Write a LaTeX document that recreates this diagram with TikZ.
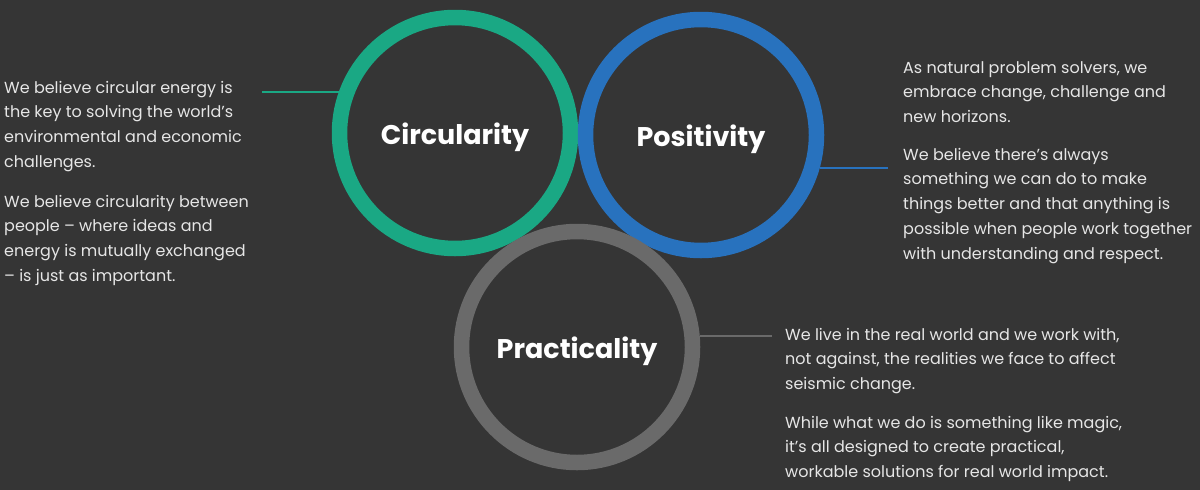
\documentclass[tikz,border=0pt]{standalone}
\usepackage{fontspec}
\setmainfont{Poppins}
\definecolor{bg}{HTML}{353535}
\definecolor{cgreen}{HTML}{1AA884}
\definecolor{cblue}{HTML}{2872BE}
\definecolor{cgrey}{HTML}{6A6A6A}
\definecolor{txt}{HTML}{E6E6E6}
\tikzset{
  ring/.style={circle, minimum size=231pt, line width=15.5pt, inner sep=0pt, text=white,
    font=\fontsize{27}{30}\selectfont\bfseries},
  para/.style={anchor=base west, inner sep=0pt, text=txt},
  conn/.style={line width=1.3pt}
}
\newcommand{\ptext}[1]{\parbox[t]{400pt}{\fontsize{16}{24.8}\selectfont #1}}
\newcommand{\lbl}[1]{\raisebox{-4pt}[\height][\depth]{#1}}
\begin{document}
\begin{tikzpicture}[x=1pt,y=-1pt]
\fill[bg] (0,0) rectangle (1200,490);
\useasboundingbox (0,0) rectangle (1200,490);
% rings
\node[ring, draw=cgreen] (circ) at (455,133) {\lbl{Circularity}};
\node[ring, draw=cblue] (posi) at (701,135) {\lbl{Positivity}};
\node[ring, draw=cgrey] (prac) at (577,347) {\lbl{Practicality}};
% connector ends
\coordinate (gl) at (262,92);
\coordinate (bl) at (888,168);
\coordinate (pl) at (772,336);
\draw[conn, cgreen] (gl) -- (gl -| circ.160.5);
\draw[conn, cblue] (posi.-15.6 |- bl) -- (bl);
\draw[conn, cgrey] (prac.5.1 |- pl) -- (pl);
% texts
\node[para] (t1) at (4,93) {\ptext{We believe circular energy is\\the key to solving the world’s\\environmental and economic\\challenges.}};
\node[para] (t2) at (4,207) {\ptext{We believe circularity between\\people – where ideas and\\energy is mutually exchanged\\– is just as important.}};
\node[para] (t3) at (903,73) {\ptext{As natural problem solvers, we\\embrace change, challenge and\\new horizons.}};
\node[para] (t4) at (903,160) {\ptext{We believe there’s always\\something we can do to make\\things better and that anything is\\possible when people work together\\with understanding and respect.}};
\node[para] (t5) at (785,340) {\ptext{We live in the real world and we work with,\\not against, the realities we face to affect\\seismic change.}};
\node[para] (t6) at (785,428) {\ptext{While what we do is something like magic,\\it’s all designed to create practical,\\workable solutions for real world impact.}};
\end{tikzpicture}
\end{document}
